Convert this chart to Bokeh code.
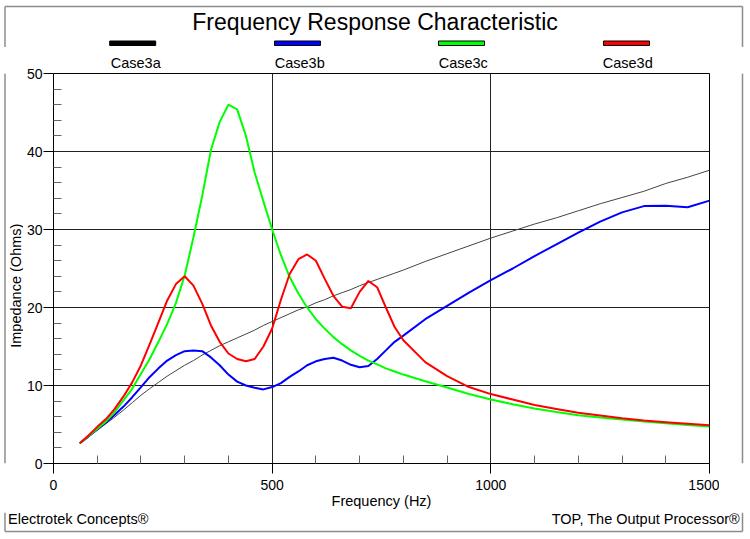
from bokeh.plotting import figure
from bokeh.models import FixedTicker, Range1d, LinearAxis
from bokeh.layouts import column, row
from bokeh.core.properties import value
from bokeh.embed import file_html
from bokeh.resources import INLINE

# ---------------- data ----------------
freq = [60, 80, 100, 120, 140, 160, 180, 200, 220, 240, 260, 280, 300, 320, 340,
        360, 380, 400, 420, 440, 460, 480, 500, 520, 540, 560, 580, 600, 620, 640,
        660, 680, 700, 720, 740, 760, 780, 800, 850, 900, 950, 1000, 1050, 1100,
        1150, 1200, 1250, 1300, 1350, 1400, 1450, 1500]

case3a = [2.6, 3.4, 4.25, 5.1, 5.95, 6.85, 7.8, 8.75, 9.6, 10.4, 11.2, 11.9, 12.6,
          13.2, 13.9, 14.5, 15.1, 15.6, 16.1, 16.6, 17.1, 17.7, 18.2, 18.7, 19.2,
          19.7, 20.1, 20.6, 21.0, 21.5, 21.9, 22.3, 22.8, 23.2, 23.6, 24.0, 24.4,
          24.8, 25.9, 26.9, 27.9, 28.9, 29.8, 30.7, 31.5, 32.4, 33.3, 34.1, 34.9,
          35.9, 36.7, 37.6]

case3b = [2.6, 3.45, 4.4, 5.25, 6.25, 7.3, 8.5, 9.8, 11.1, 12.2, 13.2, 13.9, 14.4,
          14.5, 14.4, 13.6, 12.6, 11.4, 10.5, 10.0, 9.7, 9.5, 9.8, 10.3, 11.1, 11.8,
          12.6, 13.1, 13.4, 13.55, 13.2, 12.65, 12.35, 12.5, 13.4, 14.5, 15.6, 16.4,
          18.5, 20.2, 21.9, 23.5, 25.0, 26.6, 28.1, 29.6, 31.0, 32.2, 33.0, 33.05,
          32.85, 33.7]

case3c = [2.6, 3.5, 4.45, 5.4, 6.6, 8.1, 9.6, 11.5, 13.4, 15.6, 17.9, 20.6, 24.1,
          29.0, 34.3, 40.2, 43.8, 46.0, 45.4, 42.0, 37.3, 33.6, 30.0, 26.7, 23.9,
          21.8, 20.0, 18.5, 17.3, 16.2, 15.3, 14.5, 13.8, 13.2, 12.7, 12.2, 11.8,
          11.4, 10.55, 9.75, 8.9, 8.2, 7.6, 7.05, 6.6, 6.2, 5.9, 5.65, 5.4, 5.15,
          4.95, 4.75]

case3d = [2.6, 3.6, 4.7, 5.7, 7.0, 8.6, 10.4, 12.6, 15.3, 18.1, 20.9, 23.0, 24.0,
          22.8, 20.5, 17.7, 15.6, 14.1, 13.4, 13.1, 13.4, 15.0, 17.3, 21.0, 24.3,
          26.2, 26.8, 26.0, 23.7, 21.5, 20.1, 19.9, 22.0, 23.4, 22.6, 20.0, 17.5,
          15.8, 13.0, 11.2, 9.8, 8.9, 8.2, 7.5, 7.0, 6.5, 6.15, 5.8, 5.5, 5.3, 5.1,
          4.9]

series_names = ["Case3a", "Case3b", "Case3c", "Case3d"]
series_colors = ["#000000", "#0000FF", "#00FF00", "#FF0000"]
x_major = [0, 500, 1000, 1500]
x_minor = [100, 200, 300, 400, 600, 700, 800, 900, 1100, 1200, 1300, 1400]
y_major = [0, 10, 20, 30, 40, 50]
y_minor = [2, 4, 6, 8, 12, 14, 16, 18, 22, 24, 26, 28, 32, 34, 36, 38, 42, 44, 46, 48]

title_text = "Frequency Response Characteristic"
x_label = "Frequency (Hz)"
y_label = "Impedance (Ohms)"
footer_left = "Electrotek Concepts\u00ae"
footer_right = "TOP, The Output Processor\u00ae"

FONT = "Liberation Sans"
BORDER = "#8c8c8c"
BW = 1.5

# ---------------- layout sizes (pixels) ----------------
W = 746          # total width
HEAD_H = 47      # title + legend swatches
TOP_B = 26       # main plot border above the frame (legend names)
BOT_B = 49       # main plot border below the frame (x axis)
FRAME_H = 390
MAIN_H = TOP_B + FRAME_H + BOT_B
FOOT_H = 24      # footer strip
LEFT_W = 23      # strip holding the y axis label
RIGHT_W = 27
MAIN_W = W - LEFT_W - RIGHT_W
BX_L = 4.5       # outer frame, left edge
BX_R = 742       # outer frame, right edge
legend_px = [132.2, 297, 461, 626]        # swatch centres (page pixels)
legend_name_at = [188, 563, 937, 1313]    # where the names sit on the x scale


def strip(w, h):
    f = figure(width=w, height=h, output_backend="svg", toolbar_location=None,
               x_range=Range1d(0, w), y_range=Range1d(0, h),
               x_axis_type=None, y_axis_type=None,
               min_border_left=0, min_border_right=0,
               min_border_top=0, min_border_bottom=0)
    f.outline_line_color = None
    f.grid.visible = False
    f.background_fill_color = "white"
    f.border_fill_color = "white"
    return f


def txt(f, h, x, ytop, text, size, align="left", baseline="alphabetic", angle=0.0):
    # ytop: pixel distance from the top of the strip
    f.text(x=[x], y=[h - ytop], text=[text], text_font=value(FONT),
           text_font_size=value(size), text_color="black",
           text_align=align, text_baseline=baseline, angle=angle)


def vline(f, h, x, y0, y1):
    f.segment(x0=[x], y0=[h - y0], x1=[x], y1=[h - y1], line_color=BORDER,
              line_width=BW)


def hline(f, h, y, x0, x1):
    f.segment(x0=[x0], y0=[h - y], x1=[x1], y1=[h - y], line_color=BORDER,
              line_width=BW)


# ---------------- header: title + legend swatches ----------------
head = strip(W, HEAD_H)
txt(head, HEAD_H, 374.5, 21.2, title_text, "23px", align="center")
for col, cx in zip(series_colors, legend_px):
    head.quad(left=[cx - 23], right=[cx + 23], top=[HEAD_H - 40.5],
              bottom=[HEAD_H - 45], fill_color=col, line_color="black",
              line_width=1)
hline(head, HEAD_H, 6, BX_L, BX_R)
vline(head, HEAD_H, BX_L, 6, HEAD_H)
vline(head, HEAD_H, BX_R, 6, HEAD_H)

# ---------------- left strip: y axis label ----------------
left = strip(LEFT_W, MAIN_H)
txt(left, MAIN_H, 15.5, 253, y_label, "14.5px", align="center",
    baseline="middle", angle=1.5708)
vline(left, MAIN_H, BX_L, 0, MAIN_H)

# ---------------- right strip: frame edge ----------------
right = strip(RIGHT_W, MAIN_H)
vline(right, MAIN_H, BX_R - (LEFT_W + MAIN_W), 0, MAIN_H)

# ---------------- main plot ----------------
p = figure(width=MAIN_W, height=MAIN_H, output_backend="svg",
           toolbar_location=None,
           x_range=Range1d(0, 1500), y_range=Range1d(0, 50),
           min_border_left=28, min_border_right=10,
           min_border_top=TOP_B, min_border_bottom=BOT_B)
p.background_fill_color = "white"
p.border_fill_color = "white"
p.outline_line_color = "black"
p.outline_line_width = 1

xt = FixedTicker(ticks=x_major, minor_ticks=x_minor)
yt = FixedTicker(ticks=y_major, minor_ticks=y_minor)
p.xaxis.ticker = xt
p.yaxis.ticker = yt
p.xgrid.ticker = xt
p.ygrid.ticker = yt
for g in (p.xgrid, p.ygrid):
    g.grid_line_color = "#222222"
    g.grid_line_width = 1
    g.grid_line_alpha = 1.0

for ax in (p.xaxis, p.yaxis):
    ax.axis_line_color = "black"
    ax.major_tick_line_color = "black"
    ax.major_tick_out = 10
    ax.major_tick_in = 0
    ax.minor_tick_in = 8
    ax.minor_tick_out = 0
    ax.minor_tick_line_color = "#666666"
    ax.major_label_text_font = FONT
    ax.major_label_text_font_size = "14px"
    ax.major_label_text_color = "black"
p.xaxis.major_label_standoff = 6
p.yaxis.major_label_standoff = 1
p.xaxis.axis_label = x_label
p.xaxis.axis_label_standoff = 0
p.xaxis.axis_label_text_font = FONT
p.xaxis.axis_label_text_font_size = "14.5px"
p.xaxis.axis_label_text_font_style = "normal"
p.xaxis.axis_label_text_color = "black"

# legend names: an unlined, tickless axis above the frame
legend_axis = LinearAxis(
    ticker=FixedTicker(ticks=legend_name_at, minor_ticks=[]),
    major_label_overrides={t: n for t, n in zip(legend_name_at, series_names)},
    axis_line_color=None, major_tick_line_color=None, minor_tick_line_color=None,
    major_tick_out=0, major_tick_in=0, minor_tick_out=0, minor_tick_in=0,
    axis_label_standoff=0,
    major_label_standoff=3, major_label_text_font=FONT,
    major_label_text_font_size="14.5px", major_label_text_color="black")
p.add_layout(legend_axis, "above")

p.line(freq, case3a, line_color="#444444", line_width=1)
p.line(freq, case3b, line_color=series_colors[1], line_width=2)
p.line(freq, case3c, line_color=series_colors[2], line_width=2)
p.line(freq, case3d, line_color=series_colors[3], line_width=2)

# ---------------- footer ----------------
foot = strip(W, FOOT_H)
txt(foot, FOOT_H, 7.5, 6.5, footer_left, "14.5px")
txt(foot, FOOT_H, 739.5, 6.5, footer_right, "14.5px", align="right")
hline(foot, FOOT_H, 19, BX_L, BX_R)
vline(foot, FOOT_H, BX_L, 0, 19)
vline(foot, FOOT_H, BX_R, 0, 19)

layout = column(head, row(left, p, right, spacing=0), foot, spacing=0)

open("out.html", "w").write(file_html(layout, INLINE))
